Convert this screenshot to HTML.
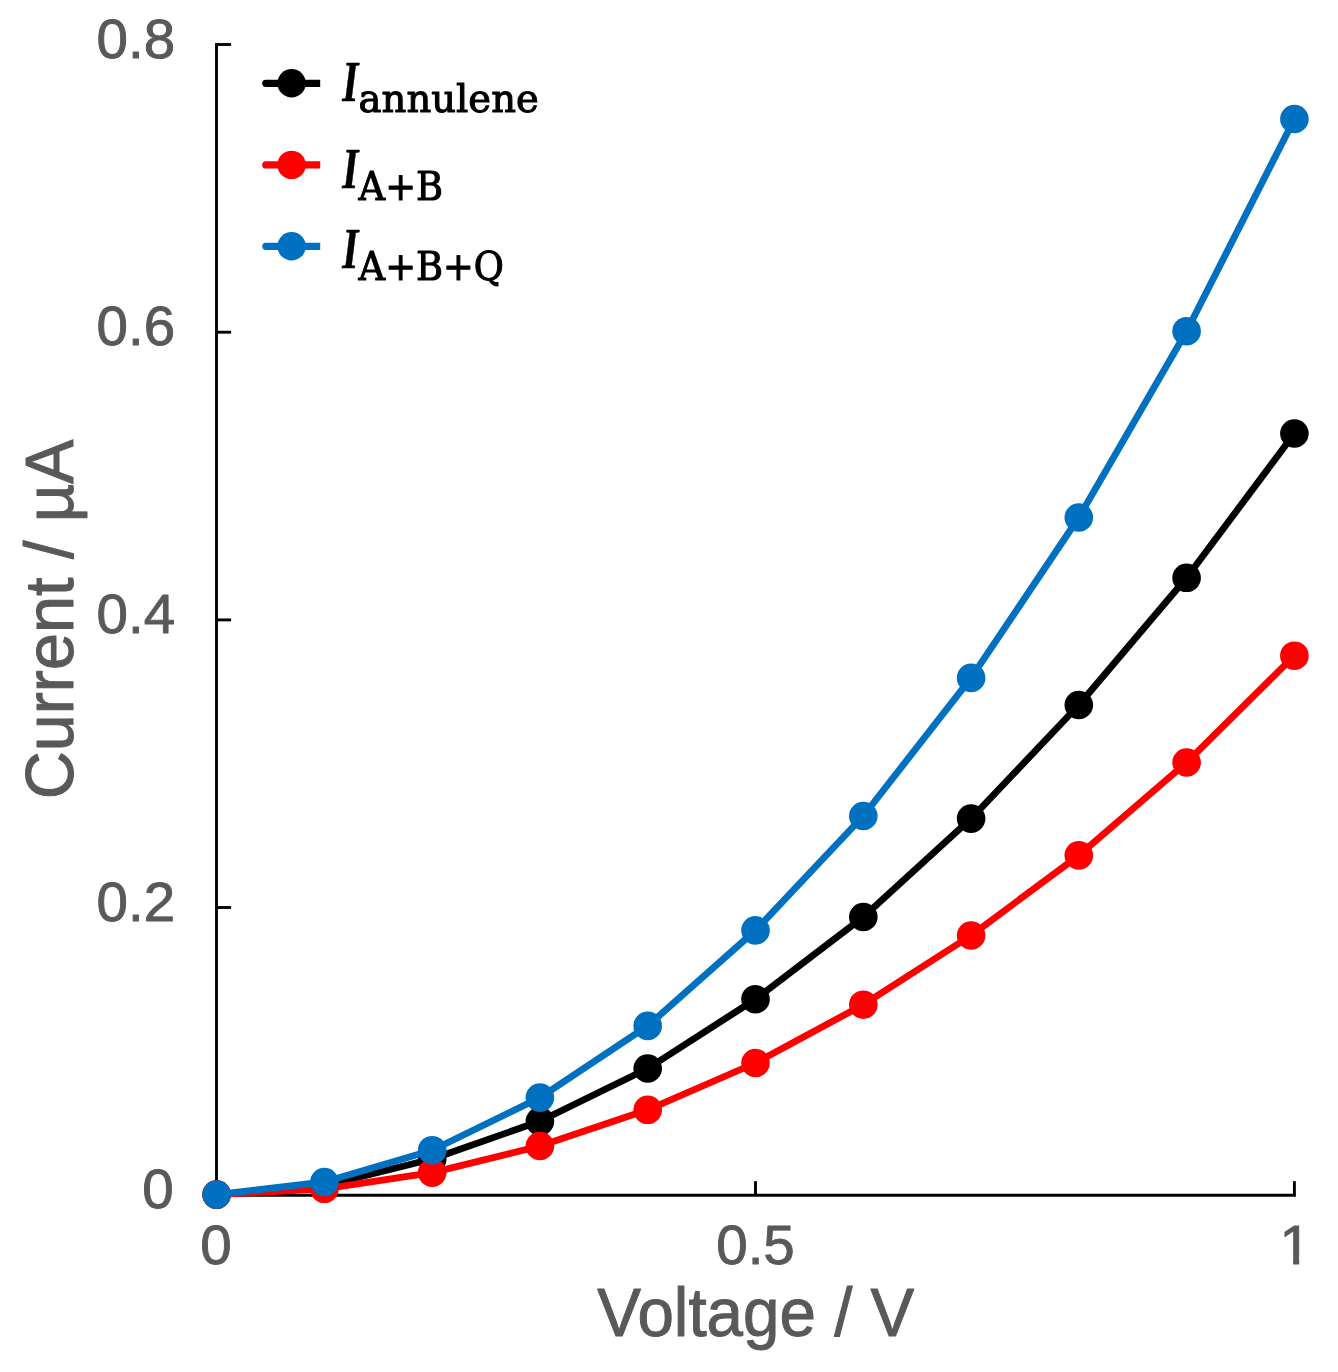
<!DOCTYPE html>
<html lang="en"><head><meta charset="utf-8"><title>Current vs Voltage</title>
<style>html,body{margin:0;padding:0;background:#fff}svg{display:block}</style></head>
<body>
<svg width="1338" height="1372" viewBox="0 0 1338 1372">
<rect width="1338" height="1372" fill="#fff"/>
<g stroke="#000" stroke-width="2.9" fill="none">
<path d="M216.5,43.05 V1196.65"/>
<path d="M215.05,1195.2 H1295.8500000000001"/>
<path d="M216.5,44.5 h14.6"/>
<path d="M216.5,332.2 h14.6"/>
<path d="M216.5,619.9 h14.6"/>
<path d="M216.5,907.5 h14.6"/>
<path d="M755.5,1195.2 v-14"/>
<path d="M1294.4,1195.2 v-14"/>
</g>
<g font-family="'Liberation Sans', Arial, Helvetica, sans-serif" font-size="54.9" fill="#595959" stroke="#595959" stroke-width="0.9" stroke-linejoin="round">
<text transform="translate(175.2,57.5) scale(1.03,1)" text-anchor="end">0.8</text>
<text transform="translate(175.2,345.2) scale(1.03,1)" text-anchor="end">0.6</text>
<text transform="translate(175.2,632.9) scale(1.03,1)" text-anchor="end">0.4</text>
<text transform="translate(175.2,920.5) scale(1.03,1)" text-anchor="end">0.2</text>
<text transform="translate(173.6,1208.2) scale(1.03,1)" text-anchor="end">0</text>
<text transform="translate(216.1,1264.3) scale(1.03,1)" text-anchor="middle">0</text>
<text transform="translate(755.5,1264.3) scale(1.03,1)" text-anchor="middle">0.5</text>
<text transform="translate(1295.2,1264.3) scale(1.03,1)" text-anchor="middle">1</text>
</g>
<path d="M1278,1257 h15.1 v10 h-15.1z M1299.2,1257 h15 v10 h-15z" fill="#fff"/>
<g font-family="'Liberation Sans', Arial, Helvetica, sans-serif" font-size="68.4" fill="#595959" stroke="#595959" stroke-width="1" stroke-linejoin="round">
<text transform="translate(755.8,1335.6) scale(0.958,1)" text-anchor="middle">Voltage / V</text>
<text transform="translate(72.8,619.4) rotate(-90) scale(0.972,1)" text-anchor="middle">Current / µA</text>
</g>
<polyline points="216.6,1194.6 324.4,1185.6 432.2,1159.0 539.9,1121.3 647.7,1068.5 755.5,999.2 863.3,917.0 971.1,818.6 1078.8,705.0 1186.6,577.8 1294.4,433.5" fill="none" stroke="#000000" stroke-width="6.8" stroke-linejoin="round" stroke-linecap="round"/>
<circle cx="216.6" cy="1194.6" r="14.3" fill="#000000"/><circle cx="324.4" cy="1185.6" r="14.3" fill="#000000"/><circle cx="432.2" cy="1159.0" r="14.3" fill="#000000"/><circle cx="539.9" cy="1121.3" r="14.3" fill="#000000"/><circle cx="647.7" cy="1068.5" r="14.3" fill="#000000"/><circle cx="755.5" cy="999.2" r="14.3" fill="#000000"/><circle cx="863.3" cy="917.0" r="14.3" fill="#000000"/><circle cx="971.1" cy="818.6" r="14.3" fill="#000000"/><circle cx="1078.8" cy="705.0" r="14.3" fill="#000000"/><circle cx="1186.6" cy="577.8" r="14.3" fill="#000000"/><circle cx="1294.4" cy="433.5" r="14.3" fill="#000000"/>

<polyline points="216.6,1194.6 324.4,1188.8 432.2,1172.6 539.9,1146.0 647.7,1109.8 755.5,1063.0 863.3,1004.7 971.1,935.5 1078.8,855.4 1186.6,762.5 1294.4,655.7" fill="none" stroke="#FF0000" stroke-width="6.8" stroke-linejoin="round" stroke-linecap="round"/>
<circle cx="216.6" cy="1194.6" r="14.3" fill="#FF0000"/><circle cx="324.4" cy="1188.8" r="14.3" fill="#FF0000"/><circle cx="432.2" cy="1172.6" r="14.3" fill="#FF0000"/><circle cx="539.9" cy="1146.0" r="14.3" fill="#FF0000"/><circle cx="647.7" cy="1109.8" r="14.3" fill="#FF0000"/><circle cx="755.5" cy="1063.0" r="14.3" fill="#FF0000"/><circle cx="863.3" cy="1004.7" r="14.3" fill="#FF0000"/><circle cx="971.1" cy="935.5" r="14.3" fill="#FF0000"/><circle cx="1078.8" cy="855.4" r="14.3" fill="#FF0000"/><circle cx="1186.6" cy="762.5" r="14.3" fill="#FF0000"/><circle cx="1294.4" cy="655.7" r="14.3" fill="#FF0000"/>

<polyline points="216.6,1194.6 324.4,1182.0 432.2,1150.2 539.9,1097.6 647.7,1025.9 755.5,930.4 863.3,816.0 971.1,677.9 1078.8,517.5 1186.6,331.2 1294.4,119.0" fill="none" stroke="#0070C0" stroke-width="6.8" stroke-linejoin="round" stroke-linecap="round"/>
<circle cx="216.6" cy="1194.6" r="14.3" fill="#0070C0"/><circle cx="324.4" cy="1182.0" r="14.3" fill="#0070C0"/><circle cx="432.2" cy="1150.2" r="14.3" fill="#0070C0"/><circle cx="539.9" cy="1097.6" r="14.3" fill="#0070C0"/><circle cx="647.7" cy="1025.9" r="14.3" fill="#0070C0"/><circle cx="755.5" cy="930.4" r="14.3" fill="#0070C0"/><circle cx="863.3" cy="816.0" r="14.3" fill="#0070C0"/><circle cx="971.1" cy="677.9" r="14.3" fill="#0070C0"/><circle cx="1078.8" cy="517.5" r="14.3" fill="#0070C0"/><circle cx="1186.6" cy="331.2" r="14.3" fill="#0070C0"/><circle cx="1294.4" cy="119.0" r="14.3" fill="#0070C0"/>

<clipPath id="lc"><rect x="250" y="40" width="70.2" height="240"/></clipPath>
<g clip-path="url(#lc)">
<path d="M265.8,83.3 H330" stroke="#000000" stroke-width="7.2" stroke-linecap="round"/><circle cx="291.6" cy="83.3" r="14.2" fill="#000000"/>
<path d="M265.8,164.9 H330" stroke="#FF0000" stroke-width="7.2" stroke-linecap="round"/><circle cx="291.6" cy="164.9" r="14.2" fill="#FF0000"/>
<path d="M265.8,246.3 H330" stroke="#0070C0" stroke-width="7.2" stroke-linecap="round"/><circle cx="291.6" cy="246.3" r="14.2" fill="#0070C0"/>
</g>
<g fill="#000" stroke="#000" stroke-linejoin="round">
<text transform="translate(342.2,101.0) scale(0.72,1)" text-anchor="start" font-family="'Liberation Serif', 'Times New Roman', serif" font-style="italic" font-weight="bold" font-size="57.5" stroke-width="0.5">I</text>
<text transform="translate(358.6,112.3) scale(0.964,1)" text-anchor="start" font-family="'DejaVu Serif', 'Liberation Serif', serif" font-size="40" stroke-width="1.1">annulene</text>
<text transform="translate(342.2,187.6) scale(0.72,1)" text-anchor="start" font-family="'Liberation Serif', 'Times New Roman', serif" font-style="italic" font-weight="bold" font-size="57.5" stroke-width="0.5">I</text>
<text transform="translate(358.6,199.7) scale(0.92,1)" text-anchor="start" font-family="'DejaVu Serif', 'Liberation Serif', serif" font-size="40" stroke-width="1.1">A+B</text>
<text transform="translate(342.2,268.4) scale(0.72,1)" text-anchor="start" font-family="'Liberation Serif', 'Times New Roman', serif" font-style="italic" font-weight="bold" font-size="57.5" stroke-width="0.5">I</text>
<text transform="translate(358.6,279.5) scale(0.92,1)" text-anchor="start" font-family="'DejaVu Serif', 'Liberation Serif', serif" font-size="40" stroke-width="1.1">A+B+Q</text>
</g>
</svg>
</body></html>
